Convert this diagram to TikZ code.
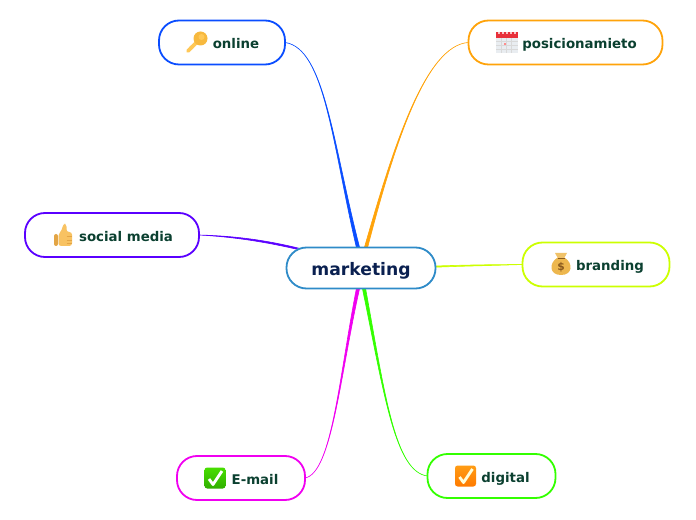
\documentclass[tikz,border=0pt]{standalone}
\usepackage{fontspec}
\setmainfont{DejaVu Sans}
\usetikzlibrary{calc,backgrounds}
\definecolor{cOn}{HTML}{0A4DFF}
\definecolor{cPos}{HTML}{FFA30A}
\definecolor{cSoc}{HTML}{5A00FF}
\definecolor{cBr}{HTML}{CCFF00}
\definecolor{cMail}{HTML}{F000F0}
\definecolor{cDig}{HTML}{33FF00}
\definecolor{cMk}{HTML}{2E8BC8}
\definecolor{txtLeaf}{HTML}{0B4030}
\definecolor{txtMk}{HTML}{0A2050}
\definecolor{keyA}{HTML}{FFC857}
\definecolor{keyB}{HTML}{F7B93E}
\definecolor{skin}{HTML}{F8C262}
\definecolor{skinD}{HTML}{E3A545}
\definecolor{bagA}{HTML}{EDB74E}
\definecolor{bagB}{HTML}{8A5A1E}
\definecolor{calB}{HTML}{E9EDF1}
\definecolor{calR}{HTML}{E8303A}
\definecolor{grnA}{HTML}{48DE00}
\definecolor{grnB}{HTML}{30AE00}
\definecolor{orgA}{HTML}{FF9C14}
\definecolor{orgB}{HTML}{FF7A00}
\tikzset{
  x=0.75pt,y=-0.75pt,
  pill/.style n args={3}{draw=#1,fill=white,line width=1.35pt,rounded corners=15pt,outer sep=0pt,inner sep=0pt,
    minimum width=#2*0.75pt,minimum height=#3*0.75pt},
  leaftext/.style={text=txtLeaf,font=\bfseries\fontsize{10}{12}\selectfont,text height=9.4pt,text depth=0pt},
  roottext/.style={text=txtMk,font=\bfseries\fontsize{12.9}{15}\selectfont,text height=12pt,text depth=0pt},
  conn/.style={fill=#1,draw=#1,line width=0.45pt},
}
\newcommand{\pad}{\hspace*{21pt}}
% tapered connector: colour, thin end, two controls, thick end (node anchor), half width
\newcommand{\taper}[6]{\filldraw[conn=#1] (#2) .. controls (#3) and (#4) .. ($(#5)+(#6,0)$) -- ($(#5)-(#6,0)$) .. controls ($(#4)+(-0.4*#6,0)$) and (#3) .. (#2) -- cycle;}
\begin{document}
\begin{tikzpicture}
\useasboundingbox (0,0) rectangle (696,520);
\node[pill={cOn}{126}{44},leaftext] (on) at (222,42.5) {\pad online};
\node[pill={cPos}{194}{44},leaftext] (pos) at (565.5,42.5) {\pad posicionamieto};
\node[pill={cSoc}{174}{44},leaftext] (soc) at (112,235) {\pad social media};
\node[pill={cMk}{149}{41},roottext] (mk) at (361,268) {marketing};
\node[pill={cBr}{147}{44},leaftext] (br) at (596,264.5) {\pad branding};
\node[pill={cMail}{128}{44},leaftext] (mail) at (241,478) {\pad E-mail};
\node[pill={cDig}{128}{44},leaftext] (dig) at (491.5,476) {\pad digital};
\coordinate (mkOn) at ($(mk.north)+(-3,0)$);
\coordinate (mkPos) at ($(mk.north)+(5,0)$);
\coordinate (mkSoc) at (298,248);
\coordinate (mkBr) at ($(mk.east)+(0,-2)$);
\coordinate (mkMail) at ($(mk.south)+(-3,0)$);
\coordinate (mkDig) at ($(mk.south)+(3,0)$);
\begin{scope}[on background layer]
\taper{cOn}{on.east}{325,48}{333,145}{mkOn}{1.6}
\taper{cPos}{pos.west}{425,45}{393,150}{mkPos}{1.6}
\filldraw[conn=cSoc] (soc.east) .. controls (235,236) and (265,240) .. (mkSoc) -- (296,249) .. controls (265,242) and (235,237) .. (soc.east) -- cycle;
\filldraw[conn=cBr] (br.west) .. controls (495,264.5) and (465,265) .. (mkBr) -- ($(mkBr)+(0,1.2)$) .. controls (465,266) and (495,265.5) .. (br.west) -- cycle;
\taper{cMail}{mail.east}{332,473}{340,375}{mkMail}{1.6}
\taper{cDig}{dig.west}{395,472}{385,395}{mkDig}{1.6}
\end{scope}
% key
\begin{scope}[shift={(197,42)}]
\draw[line width=2.8pt,color=keyA,line cap=round] (-1,1) -- (-9,9);
\draw[line width=2pt,color=keyA] (-7,4.5) -- (-4.5,7);
\fill[keyB] (3.5,-3.5) circle (7);
\fill[keyA] (4.5,-5) circle (3);
\end{scope}
% calendar
\begin{scope}[shift={(507,42.5)}]
\fill[calB] (-11,-10.5) rectangle (11,10.5);
\fill[calR] (-11,-10.5) rectangle (11,-4);
\foreach \i in {-9,-5,-1,3,7}{\fill[white!70!calR] (\i,-10.5) rectangle (\i+1.8,-8.5);}
\draw[gray!30,line width=0.25pt] (-11,-1) -- (11,-1) (-11,3) -- (11,3) (-11,7) -- (11,7) (-6,-4) -- (-6,10.5) (-1,-4) -- (-1,10.5) (4,-4) -- (4,10.5);
\fill[red!45] (-3,1) rectangle (-1,3);
\end{scope}
% thumb
\begin{scope}[shift={(63,235)}]
\fill[skinD,rounded corners=1.5pt] (-9,-1) rectangle (-5,11);
\fill[skin,rounded corners=2pt] (-4.5,-1) -- (-1,-5) -- (0,-11) -- (3.5,-11) -- (3.5,-3) -- (9,-3) -- (9,11) -- (-4.5,11) -- cycle;
\draw[skinD,line width=0.35pt] (3.5,1.5) -- (9,1.5) (3.5,5) -- (9,5) (3.5,8) -- (9,8);
\end{scope}
% money bag
\begin{scope}[shift={(561,264)}]
\fill[bagA] (-4,-6) .. controls (-12,-1) and (-12,11) .. (0,11) .. controls (12,11) and (12,-1) .. (4,-6) -- cycle;
\fill[bagA!85!white] (-6,-11) -- (6,-11) -- (3,-5.5) -- (-3,-5.5) -- cycle;
\draw[bagB,line width=0.45pt] (-3.5,-6) -- (3.5,-6);
\node[inner sep=0pt,text=bagB] (bagsign) at (0,3) {\fontsize{8}{9}\bfseries\selectfont\$};
\end{scope}
% green check
\begin{scope}[shift={(215,478)}]
\shade[top color=grnA,bottom color=grnB,rounded corners=2pt] (-10.5,-10.5) rectangle (10.5,10.5);
\draw[white,line width=2.1pt,line join=round] (-6,1) -- (-2,6.5) -- (7,-7);
\end{scope}
% orange check
\begin{scope}[shift={(465.5,476)}]
\shade[top color=orgA,bottom color=orgB,rounded corners=2pt] (-10.5,-10.5) rectangle (10.5,10.5);
\draw[white!85!yellow,line width=2.1pt,line join=round] (-6,1) -- (-2,6.5) -- (7,-7);
\end{scope}
\end{tikzpicture}
\end{document}
